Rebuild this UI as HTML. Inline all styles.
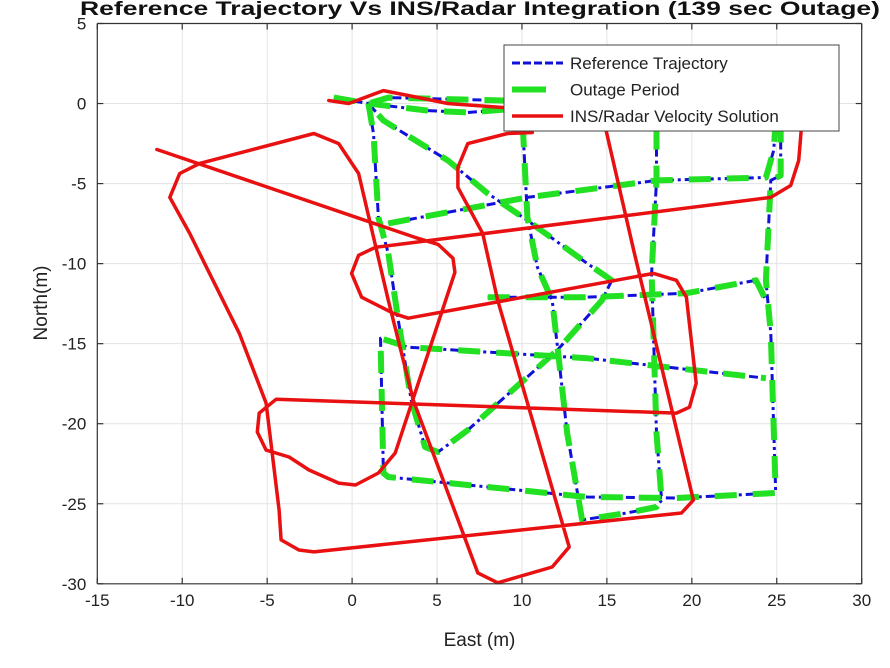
<!DOCTYPE html>
<html><head><meta charset="utf-8">
<style>
html,body{margin:0;padding:0;background:#fff;}
svg{display:block;font-family:"Liberation Sans",Arial,sans-serif;}
</style></head>
<body>
<svg id="chart" width="890" height="668" viewBox="0 0 890 668"></svg>
<script>
// ---- data (East, North in metres; null = break) ----
const xTicks = [-15,-10,-5,0,5,10,15,20,25,30];
const yTicks = [5,0,-5,-10,-15,-20,-25,-30];
const refEast = [
 -1.08,0.96,2.13,8.86,9.74,null,
 0.96,4.47,6.81,9.74,null,
 0.96,1.26,1.55,2.13,2.72,3.48,4.30,5.06,6.81,12.08,14.71,15.29,13.83,10.32,7.98,5.64,1.84,0.96,null,
 2.13,10.32,17.92,24.36,24.82,24.94,null,
 25.23,25.23,24.65,24.36,24.65,24.94,19.09,13.83,2.13,1.84,1.67,3.30,13.83,24.36,null,
 17.92,17.92,17.63,17.92,18.22,17.92,16.17,13.54,12.66,11.78,10.91,10.32,10.03,null,
 7.98,13.83,19.68,23.77,24.36];
const refNorth = [
 0.37,0,0.37,0.19,0.19,null,
 0,-0.44,-0.56,-0.31,null,
 0,-1.87,-7.11,-9.36,-13.54,-18.53,-21.46,-21.77,-20.40,-15.41,-12.29,-11.04,-9.98,-7.30,-5.61,-3.56,-1.06,0,null,
 -7.49,-5.86,-4.80,-4.62,-2.93,-1.06,null,
 -1.06,-4.49,-4.80,-11.04,-14.35,-24.33,-24.64,-24.58,-23.33,-23.08,-14.66,-15.22,-15.91,-17.16,null,
 -1.50,-4.80,-10.61,-20.59,-24.77,-25.20,-25.58,-26.01,-20.59,-12.29,-10.23,-7.11,-1.06,null,
 -12.10,-12.10,-11.85,-11.04,-12.29];
const insEast = [
 -11.49,3.71,5.06,5.94,6.05,2.54,1.55,0.20,-0.79,-2.54,-3.71,-5.06,-5.58,-5.47,-4.47,19.09,19.86,20.26,19.68,19.09,17.75,3.30,2.43,0.56,-0.03,0.38,1.37,24.65,25.82,26.29,26.46,26.70,null,
 10.61,9.15,6.81,6.23,6.23,7.69,8.57,12.78,11.78,8.57,7.40,6.52,3.60,2.13,0.38,-0.79,-2.25,-8.98,-10.15,-10.73,-9.56,-6.64,-5.06,-4.30,-4.18,-3.13,-2.25,19.39,20.09,16.58,14.82,null,
 -1.37,-0.20,1.84,3.30,5.64,8.86,9.74];
const insNorth = [
 -2.87,-8.36,-8.80,-9.67,-10.54,-21.83,-23.08,-23.83,-23.71,-22.89,-22.08,-21.65,-20.52,-19.34,-18.47,-19.34,-18.97,-17.47,-12.10,-11.04,-10.61,-13.41,-13.10,-12.10,-10.61,-9.48,-8.98,-5.86,-5.12,-3.56,-1.37,2.06,null,
 -1.81,-1.87,-2.50,-3.99,-5.24,-8.11,-12.29,-27.70,-28.95,-29.94,-29.32,-26.82,-18.53,-12.29,-4.37,-2.50,-1.87,-3.74,-4.37,-5.86,-8.11,-14.35,-18.71,-25.39,-27.26,-27.89,-28.01,-25.58,-24.77,-9.17,-1.06,null,
 0.19,0,0.81,0.50,0,-0.25,-0.25];

// ---- axes ----
const L=97.3,R=861.7,T=23.5,B=583.8;
const xMin=-15,xMax=30,yMin=-30,yMax=5;
const sx=v=>L+(v-xMin)/(xMax-xMin)*(R-L);
const sy=v=>B-(v-yMin)/(yMax-yMin)*(B-T);
const NS='http://www.w3.org/2000/svg';
const svg=document.getElementById('chart');
function mk(tag,attrs,parent){const e=document.createElementNS(NS,tag);for(const k in attrs)e.setAttribute(k,attrs[k]);(parent||svg).appendChild(e);return e;}
function pathFrom(xs,ys){let d='',pen=false;for(let i=0;i<xs.length;i++){if(xs[i]===null||ys[i]===null){pen=false;continue;}d+=(pen?'L':'M')+sx(xs[i]).toFixed(1)+','+sy(ys[i]).toFixed(1);pen=true;}return d;}

const bg=mk('rect',{x:L,y:T,width:R-L,height:B-T,fill:'#fff'});



const grid=mk('g',{stroke:'#e3e3e3','stroke-width':1});


xTicks.forEach(t=>{mk('line',{x1:sx(t),x2:sx(t),y1:T,y2:B},grid);});
yTicks.forEach(t=>{mk('line',{x1:L,x2:R,y1:sy(t),y2:sy(t)},grid);});

// series
const ref=mk('path',{d:pathFrom(refEast,refNorth),fill:'none',stroke:'#1010d8','stroke-width':3,'stroke-dasharray':'9,4,3,4','stroke-linejoin':'round'});


const out=mk('path',{d:pathFrom(refEast,refNorth),fill:'none',stroke:'#22e022','stroke-width':6,'stroke-dasharray':'22,16','stroke-linejoin':'round'});


const ins=mk('path',{d:pathFrom(insEast,insNorth),fill:'none',stroke:'#e81010','stroke-width':3.5,'stroke-linejoin':'round','stroke-linecap':'round'});



// axes box
const box=mk('g',{stroke:'#333','stroke-width':1.2,fill:'none'});


mk('line',{x1:L,x2:R,y1:B,y2:B},box);
mk('line',{x1:L,x2:L,y1:T,y2:B},box);
mk('line',{x1:L,x2:R,y1:T,y2:T},box);
mk('line',{x1:R,x2:R,y1:T,y2:B},box);
xTicks.forEach(t=>{mk('line',{x1:sx(t),x2:sx(t),y1:B,y2:B-6},box);mk('line',{x1:sx(t),x2:sx(t),y1:T,y2:T+6},box);});
yTicks.forEach(t=>{mk('line',{x1:L,x2:L+6,y1:sy(t),y2:sy(t)},box);mk('line',{x1:R,x2:R-6,y1:sy(t),y2:sy(t)},box);});

xTicks.forEach(t=>{const e=mk('text',{x:sx(t),y:B+22,'text-anchor':'middle','font-size':17,fill:'#222'});e.textContent=String(t);
 
 });
yTicks.forEach(t=>{const e=mk('text',{x:L-11,y:sy(t)+6,'text-anchor':'end','font-size':17,fill:'#222'});e.textContent=String(t);
 
 });

const xl=mk('text',{x:(L+R)/2,y:646,'text-anchor':'middle','font-size':19,fill:'#222'});xl.textContent='East (m)';


const yl=mk('text',{x:0,y:0,'text-anchor':'middle','font-size':19,fill:'#222',transform:'translate(47,303) rotate(-90)'});yl.textContent='North(m)';


const tt=mk('text',{x:80,y:15,'font-size':19,'font-weight':'bold',fill:'#111',textLength:800,lengthAdjust:'spacingAndGlyphs'});tt.textContent='Reference Trajectory Vs INS/Radar Integration (139 sec Outage)';



// legend
const lg=mk('g',{});


mk('rect',{x:504,y:45,width:335,height:86,fill:'#fff',stroke:'#444','stroke-width':1},lg);
const items=[['Reference Trajectory','#1010d8',3,'8,3,8,3'],['Outage Period','#22e022',6,''],['INS/Radar Velocity Solution','#e81010',3.5,'']];
const itemNames=['legend-entry-reference','legend-entry-outage','legend-entry-ins-radar'];
items.forEach((it,i)=>{const y=63+i*26.5;
 const g=mk('g',{},lg);
 
 
 const a={x1:512,x2:i==1?546:563,y1:y,y2:y,stroke:it[1],'stroke-width':it[2]};if(it[3])a['stroke-dasharray']=it[3];
 mk('line',a,g);
 const t=mk('text',{x:570,y:y+6,'font-size':17,fill:'#222'},g);t.textContent=it[0];});
</script>
</body></html>
